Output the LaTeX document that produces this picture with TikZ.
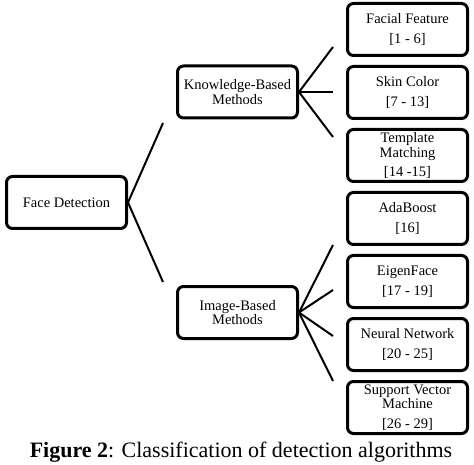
\documentclass[tikz,border=0pt]{standalone}
\usepackage{fontspec}
\setmainfont{Liberation Serif}
\usetikzlibrary{math}
\tikzset{
box/.style={draw, line width=3pt, rounded corners=6pt, minimum width=120pt, minimum height=52pt, align=center, inner sep=1pt, font=\fontsize{14.5}{14.5}\selectfont},
branch/.style={line width=2pt}
}

\begin{document}
\begin{tikzpicture}[x=1pt,y=-1pt]
\tikzmath{
\xl=66.5;
\xm=237.5;
\xr=407.5;
\dy=63;
\yt=29.5;
\xe=333;
}
\useasboundingbox (0,0) rectangle (474,465);

\node[box] (fd) at (\xl,202.5) {Face Detection};
\node[box] (kb) at (\xm,92) {Knowledge-Based\\Methods};
\node[box] (ib) at (\xm,312.5) {Image-Based\\Methods};

\node[box] (ff) at (\xr,\yt) {Facial Feature\\[5pt]{[1 - 6]}};
\node[box] (sc) at (\xr,\yt+\dy) {Skin Color\\[5pt]{[7 - 13]}};
\node[box] (tm) at (\xr,\yt+2*\dy) {Template\\Matching\\[5pt]{[14 -15]}};
\node[box] (ab) at (\xr,\yt+3*\dy) {AdaBoost\\[5pt]{[16]}};
\node[box] (ef) at (\xr,\yt+4*\dy) {EigenFace\\[5pt]{[17 - 19]}};
\node[box] (nn) at (\xr,\yt+5*\dy) {Neural Network\\[5pt]{[20 - 25]}};
\node[box] (svm) at (\xr,\yt+6*\dy) {Support Vector\\Machine\\[5pt]{[26 - 29]}};

\coordinate (fdup) at (163,123);
\coordinate (fddown) at (163,282);
\coordinate (kb1) at (\xe,47);
\coordinate (kb2) at (\xe,92);
\coordinate (kb3) at (\xe,137);
\coordinate (ib1) at (\xe,245);
\coordinate (ib2) at (\xe,290);
\coordinate (ib3) at (\xe,336);
\coordinate (ib4) at (\xe,381);

\draw[branch] (fd.east) -- (fdup);
\draw[branch] (fd.east) -- (fddown);
\draw[branch] (kb.east) -- (kb1);
\draw[branch] (kb.east) -- (kb2);
\draw[branch] (kb.east) -- (kb3);
\draw[branch] (ib.east) -- (ib1);
\draw[branch] (ib.east) -- (ib2);
\draw[branch] (ib.east) -- (ib3);
\draw[branch] (ib.east) -- (ib4);

\node[font=\fontsize{22}{24}\selectfont] (cap) at (241,452) {\textbf{Figure 2}: Classification of detection algorithms};
\end{tikzpicture}
\end{document}
